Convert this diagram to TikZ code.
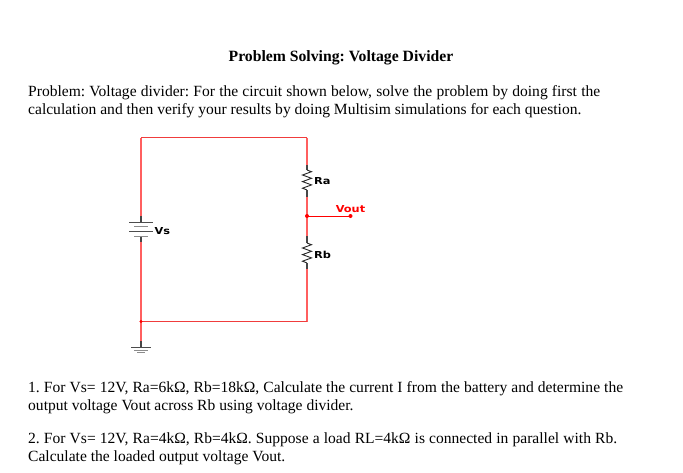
\documentclass[tikz,border=0pt]{standalone}
\usepackage{fontspec}
\setmainfont{Liberation Serif}
\newfontfamily\labelfont[FakeStretch=1.18]{DejaVu Sans}
\definecolor{wirered}{RGB}{240,60,60}
\definecolor{softred}{RGB}{255,95,95}
\definecolor{stubgrey}{RGB}{70,70,70}
\tikzset{
  x=1pt,y=-1pt,
  textline/.style={anchor=base west,inner sep=0pt,font=\fontsize{15.55}{18}\selectfont\frenchspacing},
  wire/.style={draw=wirered,line width=1pt},
  vwire/.style={draw=softred,line width=1.6pt},
  outwire/.style={draw=red,line width=0.9pt},
  stub/.style={draw=stubgrey,line width=1.2pt},
  plate/.style={draw=black!70,line width=1pt},
  softplate/.style={draw=black!45,line width=1pt},
  partlabel/.style={anchor=west,inner sep=0pt,font=\labelfont\bfseries\fontsize{9.6}{10}\selectfont},
  junction/.style={circle,fill=#1,inner sep=0pt,minimum size=4pt}
}
\newcommand{\zigzag}[2]{% top coordinate, bottom coordinate
  \draw[black!85,line width=0.9pt,line join=miter] (#1) -- ++(4.5,1.7) -- ++(-9,3.3) -- ++(9,3.3) -- ++(-9,3.3) -- ++(9,3.3) -- ++(-9,3.3) -- (#2);}
\begin{document}
\begin{tikzpicture}
\useasboundingbox (0,0) rectangle (683,472);
\node[textline,font=\bfseries\fontsize{15.7}{18}\selectfont\frenchspacing,anchor=base] (title) at (341,61) {Problem Solving: Voltage Divider};
\node[textline] (p1) at (28,96) {\hbox to 572pt{Problem: Voltage divider: For the circuit shown below, solve the problem by doing first the}};
\node[textline] (p2) at (28,114) {calculation and then verify your results by doing Multisim simulations for each question.};
\node[textline] (q1a) at (28,392) {\hbox to 595pt{1. For Vs= 12V, Ra=6kΩ, Rb=18kΩ, Calculate the current I from the battery and determine the}};
\node[textline] (q1b) at (28,410) {output voltage Vout across Rb using voltage divider.};
\node[textline] (q2a) at (28,443) {\hbox to 589pt{2. For Vs= 12V, Ra=4kΩ, Rb=4kΩ. Suppose a load RL=4kΩ is connected in parallel with Rb.}};
\node[textline] (q2b) at (28,461) {Calculate the loaded output voltage Vout.};

\coordinate (tl) at (141,137.5);
\coordinate (tr) at (307,137.5);
\coordinate (br) at (307,321.5);
\coordinate (bl) at (141,321.5);
\coordinate (bt) at (141,216);
\coordinate (bp1) at (141,222.5);
\coordinate (bp4) at (141,236);
\coordinate (bb) at (141,242);
\coordinate (gt) at (141,341);
\coordinate (gp) at (141,347.5);
\coordinate (rat) at (307,165);
\coordinate (raz) at (307,170);
\coordinate (razb) at (307,190);
\coordinate (rab) at (307,197);
\coordinate (rbt) at (307,236);
\coordinate (rbz) at (307,243);
\coordinate (rbzb) at (307,263);
\coordinate (rbb) at (307,269);

\draw[vwire] (bt) -- (tl);
\draw[vwire] (tr) -- (rat);
\draw[vwire] (rab) -- (rbt);
\draw[vwire] (rbb) -- (br);
\draw[vwire] (bl) -- (bb);
\draw[vwire] (bl) -- (gt);
\draw[wire] (tl) -- (tr);
\draw[wire] (br) -- (bl);

\node[junction=red] (jm) at (307,216) {};
\node[junction=red] (vo) at (350.5,216) {};
\node[junction=red,minimum size=3.4pt] (jb) at (141,321.5) {};
\draw[outwire] (jm.center) -- (vo.center);

\draw[stub] (bt) -- (bp1);
\draw[stub] (bp4) -- (bb);
\draw[plate] (129,222.5) -- (152.5,222.5);
\draw[softplate] (134,226.8) -- (148,226.8);
\draw[plate] (129,231) -- (152.5,231);
\draw[softplate] (134,236) -- (148,236);

\draw[stub] (gt) -- (gp);
\draw[plate] (131,347.5) -- (151,347.5);
\draw[softplate] (134,350) -- (148,350);
\draw[softplate] (137,352.5) -- (145,352.5);

\draw[stub] (rat) -- (raz);
\zigzag{raz}{razb}
\draw[stub] (razb) -- (rab);
\draw[stub] (rbt) -- (rbz);
\zigzag{rbz}{rbzb}
\draw[stub] (rbzb) -- (rbb);

\node[partlabel] (vs) at (154.5,231.5) {Vs};
\node[partlabel] (ra) at (314,181.5) {Ra};
\node[partlabel] (rb) at (314,254.5) {Rb};
\node[partlabel,text=red,anchor=center] (vout) at (350.5,209.5) {Vout};
\end{tikzpicture}
\end{document}
